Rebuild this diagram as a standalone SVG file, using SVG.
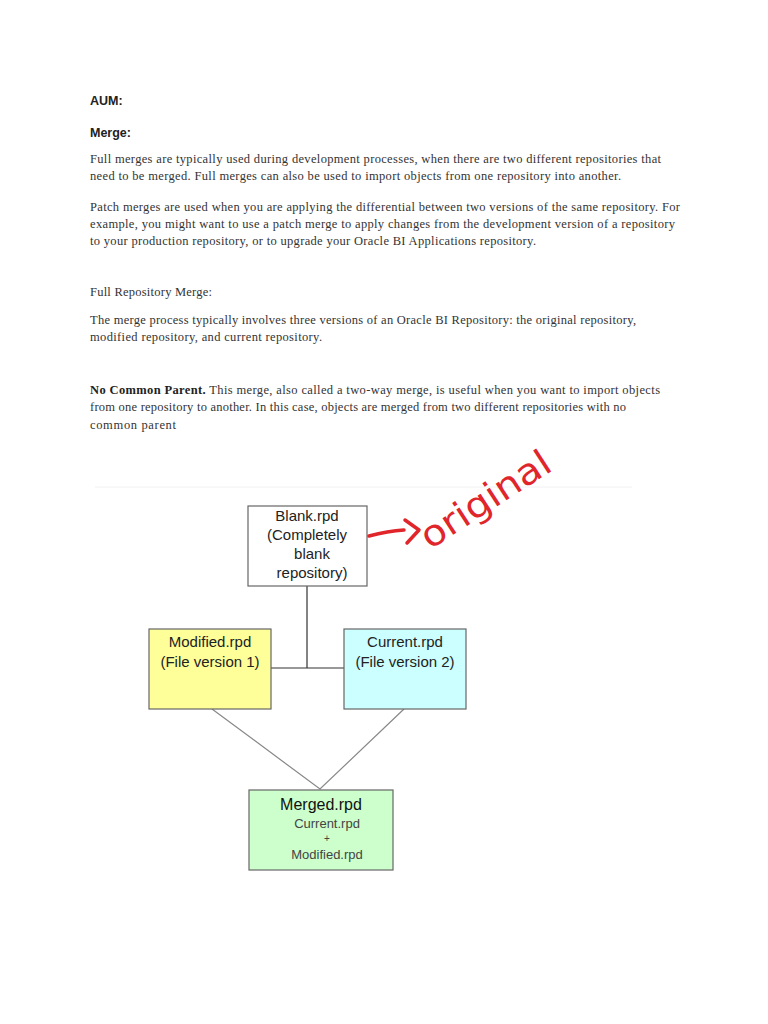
<svg xmlns="http://www.w3.org/2000/svg" width="768" height="1024" viewBox="0 0 768 1024">
<style>
.h{font-family:"Liberation Sans",Arial,sans-serif;font-weight:bold;font-size:12.5px;fill:#222}
.p{font-family:"Liberation Serif","Times New Roman",serif;font-size:12.5px;fill:#333}
.b{font-family:"Liberation Serif","Times New Roman",serif;font-size:12.5px;fill:#222;font-weight:bold}
.n{font-family:"Liberation Sans",Arial,sans-serif;font-size:15px;fill:#222;text-anchor:middle}
.s{font-family:"Liberation Sans",Arial,sans-serif;font-size:13px;fill:#444;text-anchor:middle}
.box{stroke:#666;stroke-width:1.2}
.red{stroke:#e0262b;stroke-width:3.5;fill:none;stroke-linecap:round;stroke-linejoin:round}
</style>
<rect width="768" height="1024" fill="#fff"/>
<g id="text">
<text class="h" x="90" y="105">AUM:</text>
<text class="h" x="90" y="137">Merge:</text>
<text class="p" x="90" y="163" textLength="571" lengthAdjust="spacing">Full merges are typically used during development processes, when there are two different repositories that</text>
<text class="p" x="90" y="180" textLength="531" lengthAdjust="spacing">need to be merged. Full merges can also be used to import objects from one repository into another.</text>
<text class="p" x="90" y="211" textLength="590" lengthAdjust="spacing">Patch merges are used when you are applying the differential between two versions of the same repository. For</text>
<text class="p" x="90" y="228" textLength="585" lengthAdjust="spacing">example, you might want to use a patch merge to apply changes from the development version of a repository</text>
<text class="p" x="90" y="245" textLength="446" lengthAdjust="spacing">to your production repository, or to upgrade your Oracle BI Applications repository.</text>
<text class="p" x="90" y="296" textLength="122" lengthAdjust="spacing">Full Repository Merge:</text>
<text class="p" x="90" y="324" textLength="546" lengthAdjust="spacing">The merge process typically involves three versions of an Oracle BI Repository: the original repository,</text>
<text class="p" x="90" y="341" textLength="232" lengthAdjust="spacing">modified repository, and current repository.</text>
<text class="p" x="90" y="394" textLength="570" lengthAdjust="spacing"><tspan class="b">No Common Parent.</tspan> This merge, also called a two-way merge, is useful when you want to import objects</text>
<text class="p" x="90" y="411" textLength="536" lengthAdjust="spacing">from one repository to another. In this case, objects are merged from two different repositories with no</text>
<text class="p" x="90" y="429" textLength="86" lengthAdjust="spacing">common parent</text>
</g>
<line x1="95" y1="487" x2="632" y2="487" stroke="#f0f0f0" stroke-width="1"/>
<g id="connectors" fill="none">
<path d="M307 586 V668 M271 668 H344" stroke="#333" stroke-width="1.2"/>
<path d="M212 709 L320 789 L404 709" stroke="#888" stroke-width="1.2"/>
</g>
<g id="blank">
<rect class="box" x="248" y="506" width="119" height="80" fill="#fff"/>
<text class="n" x="307" y="521">Blank.rpd</text>
<text class="n" x="307" y="540">(Completely</text>
<text class="n" x="312" y="559">blank</text>
<text class="n" x="312" y="578">repository)</text>
</g>
<g id="modified">
<rect class="box" x="149" y="629" width="122" height="80" fill="#ffff99"/>
<text class="n" x="210" y="647">Modified.rpd</text>
<text class="n" x="210" y="667">(File version 1)</text>
</g>
<g id="current">
<rect class="box" x="344" y="629" width="122" height="80" fill="#ccffff"/>
<text class="n" x="405" y="647">Current.rpd</text>
<text class="n" x="405" y="667">(File version 2)</text>
</g>
<g id="merged">
<rect class="box" x="249" y="790" width="144" height="80" fill="#ccffcc"/>
<text class="n" x="321" y="810" style="font-size:16px;fill:#111">Merged.rpd</text>
<text class="s" x="327" y="828">Current.rpd</text>
<text class="s" x="327" y="842" style="font-size:10px">+</text>
<text class="s" x="327" y="859">Modified.rpd</text>
</g>
<g id="annotation">
<path class="red" d="M369 536 Q388 531 404 530"/>
<path class="red" d="M405 520 L419 530 L407 543"/>
<text x="430" y="550" transform="rotate(-33 430 550)" font-family="DejaVu Sans, sans-serif" font-size="36" fill="#e0262b" textLength="148" lengthAdjust="spacingAndGlyphs">original</text>
</g>
</svg>
